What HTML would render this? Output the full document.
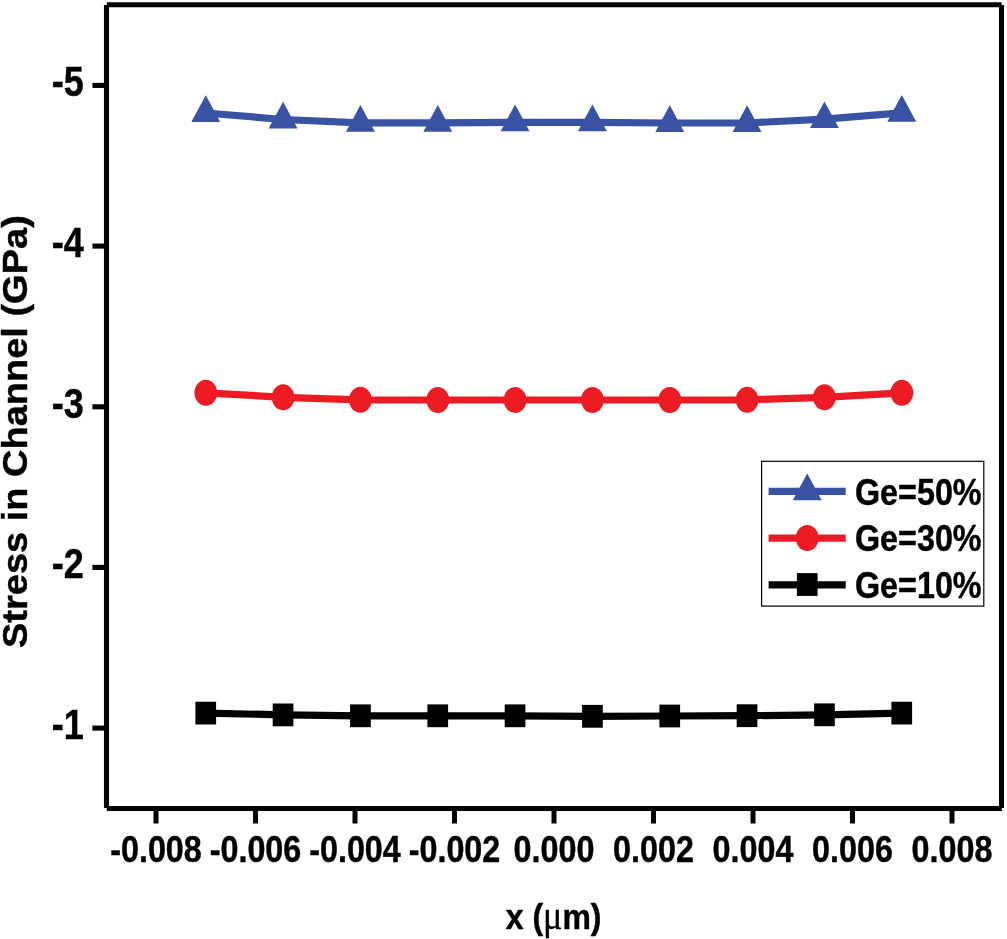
<!DOCTYPE html>
<html lang="en"><head><meta charset="utf-8"><title>Stress in Channel</title>
<style>html,body{margin:0;padding:0;background:#fff}svg{display:block}text{font-family:"Liberation Sans",sans-serif;font-weight:bold;fill:#000;stroke:#000;stroke-width:0.45px;stroke-linejoin:round}</style></head><body>
<svg width="1007" height="939" viewBox="0 0 1007 939">
<rect width="1007" height="939" fill="#fff"/>
<g stroke="#000" fill="none"><line x1="106.5" y1="4.9" x2="106.5" y2="808" stroke-width="5.1"/><line x1="106.8" y1="808.4" x2="1001.8" y2="808.4" stroke-width="5"/><line x1="1001.5" y1="5" x2="1001.5" y2="807.9" stroke-width="5"/><line x1="106.9" y1="4.8" x2="1001.6" y2="4.8" stroke-width="4.9"/></g>
<line x1="92.4" y1="85.4" x2="105" y2="85.4" stroke="#000" stroke-width="5.1"/>
<text transform="translate(83.8,96.4) scale(0.853,1)" font-size="42.2" text-anchor="end">-5</text>
<line x1="92.4" y1="246.1" x2="105" y2="246.1" stroke="#000" stroke-width="5.1"/>
<text transform="translate(83.8,257.1) scale(0.853,1)" font-size="42.2" text-anchor="end">-4</text>
<line x1="92.4" y1="406.8" x2="105" y2="406.8" stroke="#000" stroke-width="5.1"/>
<text transform="translate(83.8,417.8) scale(0.853,1)" font-size="42.2" text-anchor="end">-3</text>
<line x1="92.4" y1="567.4" x2="105" y2="567.4" stroke="#000" stroke-width="5.1"/>
<text transform="translate(83.8,578.4) scale(0.853,1)" font-size="42.2" text-anchor="end">-2</text>
<line x1="92.4" y1="728.1" x2="105" y2="728.1" stroke="#000" stroke-width="5.1"/>
<text transform="translate(83.8,739.1) scale(0.853,1)" font-size="42.2" text-anchor="end">-1</text>
<line x1="156.0" y1="810" x2="156.0" y2="823.5" stroke="#000" stroke-width="5"/>
<text transform="translate(156.0,862.1) scale(0.87,1)" font-size="37.1" text-anchor="middle">-0.008</text>
<line x1="255.5" y1="810" x2="255.5" y2="823.5" stroke="#000" stroke-width="5"/>
<text transform="translate(255.5,862.1) scale(0.87,1)" font-size="37.1" text-anchor="middle">-0.006</text>
<line x1="355.0" y1="810" x2="355.0" y2="823.5" stroke="#000" stroke-width="5"/>
<text transform="translate(355.0,862.1) scale(0.87,1)" font-size="37.1" text-anchor="middle">-0.004</text>
<line x1="454.5" y1="810" x2="454.5" y2="823.5" stroke="#000" stroke-width="5"/>
<text transform="translate(454.5,862.1) scale(0.87,1)" font-size="37.1" text-anchor="middle">-0.002</text>
<line x1="554.0" y1="810" x2="554.0" y2="823.5" stroke="#000" stroke-width="5"/>
<text transform="translate(554.0,862.1) scale(0.87,1)" font-size="37.1" text-anchor="middle">0.000</text>
<line x1="653.5" y1="810" x2="653.5" y2="823.5" stroke="#000" stroke-width="5"/>
<text transform="translate(653.5,862.1) scale(0.87,1)" font-size="37.1" text-anchor="middle">0.002</text>
<line x1="753.0" y1="810" x2="753.0" y2="823.5" stroke="#000" stroke-width="5"/>
<text transform="translate(753.0,862.1) scale(0.87,1)" font-size="37.1" text-anchor="middle">0.004</text>
<line x1="852.5" y1="810" x2="852.5" y2="823.5" stroke="#000" stroke-width="5"/>
<text transform="translate(852.5,862.1) scale(0.87,1)" font-size="37.1" text-anchor="middle">0.006</text>
<line x1="952.0" y1="810" x2="952.0" y2="823.5" stroke="#000" stroke-width="5"/>
<text transform="translate(952.0,862.1) scale(0.87,1)" font-size="37.1" text-anchor="middle">0.008</text>
<text transform="translate(553.6,929) scale(0.893,1)" font-size="35.8" text-anchor="middle">x (<tspan font-family="'Liberation Serif',serif" font-weight="normal" font-size="40.5" stroke="#000" stroke-width="0.4">μ</tspan>m)</text>
<text transform="translate(27.2,431.6) rotate(-90) scale(1.086,1)" font-size="35" text-anchor="middle">Stress in Channel (GPa)</text>
<polyline points="205.8,113.0 283.1,119.5 360.4,122.8 437.8,122.8 515.1,122.3 592.4,122.3 669.8,123.0 747.1,123.0 824.4,119.2 901.8,112.8" fill="none" stroke="#3853a4" stroke-width="7.2"/>
<polygon points="205.8,95.2 220.2,121.9 191.3,121.9" fill="#3853a4"/>
<polygon points="283.1,101.7 297.5,128.4 268.6,128.4" fill="#3853a4"/>
<polygon points="360.4,105.0 374.9,131.7 346.0,131.7" fill="#3853a4"/>
<polygon points="437.8,105.0 452.2,131.7 423.3,131.7" fill="#3853a4"/>
<polygon points="515.1,104.5 529.5,131.2 500.6,131.2" fill="#3853a4"/>
<polygon points="592.4,104.5 606.9,131.2 578.0,131.2" fill="#3853a4"/>
<polygon points="669.8,105.2 684.2,131.9 655.3,131.9" fill="#3853a4"/>
<polygon points="747.1,105.2 761.5,131.9 732.6,131.9" fill="#3853a4"/>
<polygon points="824.4,101.4 838.9,128.1 810.0,128.1" fill="#3853a4"/>
<polygon points="901.8,95.0 916.2,121.7 887.3,121.7" fill="#3853a4"/>
<polyline points="205.8,392.8 283.1,397.3 360.4,399.8 437.8,400.0 515.1,400.0 592.4,400.0 669.8,400.0 747.1,399.8 824.4,397.3 901.8,392.8" fill="none" stroke="#ed1c24" stroke-width="7.2"/>
<ellipse cx="205.8" cy="392.8" rx="11.4" ry="12.95" fill="#ed1c24"/>
<ellipse cx="283.1" cy="397.3" rx="11.4" ry="12.95" fill="#ed1c24"/>
<ellipse cx="360.4" cy="399.8" rx="11.4" ry="12.95" fill="#ed1c24"/>
<ellipse cx="437.8" cy="400.0" rx="11.4" ry="12.95" fill="#ed1c24"/>
<ellipse cx="515.1" cy="400.0" rx="11.4" ry="12.95" fill="#ed1c24"/>
<ellipse cx="592.4" cy="400.0" rx="11.4" ry="12.95" fill="#ed1c24"/>
<ellipse cx="669.8" cy="400.0" rx="11.4" ry="12.95" fill="#ed1c24"/>
<ellipse cx="747.1" cy="399.8" rx="11.4" ry="12.95" fill="#ed1c24"/>
<ellipse cx="824.4" cy="397.3" rx="11.4" ry="12.95" fill="#ed1c24"/>
<ellipse cx="901.8" cy="392.8" rx="11.4" ry="12.95" fill="#ed1c24"/>
<polyline points="205.8,713.1 283.1,714.9 360.4,715.8 437.8,715.8 515.1,715.8 592.4,716.3 669.8,716.0 747.1,715.7 824.4,714.8 901.8,713.1" fill="none" stroke="#000" stroke-width="7.2"/>
<rect x="195.4" y="701.7" width="20.7" height="22.8" fill="#000"/>
<rect x="272.7" y="703.5" width="20.7" height="22.8" fill="#000"/>
<rect x="350.1" y="704.4" width="20.7" height="22.8" fill="#000"/>
<rect x="427.4" y="704.4" width="20.7" height="22.8" fill="#000"/>
<rect x="504.7" y="704.4" width="20.7" height="22.8" fill="#000"/>
<rect x="582.1" y="704.9" width="20.7" height="22.8" fill="#000"/>
<rect x="659.4" y="704.6" width="20.7" height="22.8" fill="#000"/>
<rect x="736.7" y="704.3" width="20.7" height="22.8" fill="#000"/>
<rect x="814.1" y="703.4" width="20.7" height="22.8" fill="#000"/>
<rect x="891.4" y="701.7" width="20.7" height="22.8" fill="#000"/>
<rect x="761.6" y="461.3" width="222.2" height="144.8" fill="#fff" stroke="#000" stroke-width="1.2"/>
<line x1="768.6" y1="491.4" x2="845.7" y2="491.4" stroke="#3853a4" stroke-width="7.2"/>
<polygon points="807.2,473.5 821.7,500.2 792.8,500.2" fill="#3853a4"/>
<text transform="translate(855,504.6) scale(0.866,1)" font-size="37.3" text-anchor="start">Ge=50%</text>
<line x1="768.6" y1="538.2" x2="845.7" y2="538.2" stroke="#ed1c24" stroke-width="7.2"/>
<ellipse cx="807.2" cy="538" rx="11.4" ry="12.95" fill="#ed1c24"/>
<text transform="translate(855,550.7) scale(0.866,1)" font-size="37.3" text-anchor="start">Ge=30%</text>
<line x1="768.6" y1="584.8" x2="845.7" y2="584.8" stroke="#000" stroke-width="7.2"/>
<rect x="796.9" y="573.1" width="20.7" height="22.8" fill="#000"/>
<text transform="translate(855,597.7) scale(0.866,1)" font-size="37.3" text-anchor="start">Ge=10%</text>
</svg></body></html>
